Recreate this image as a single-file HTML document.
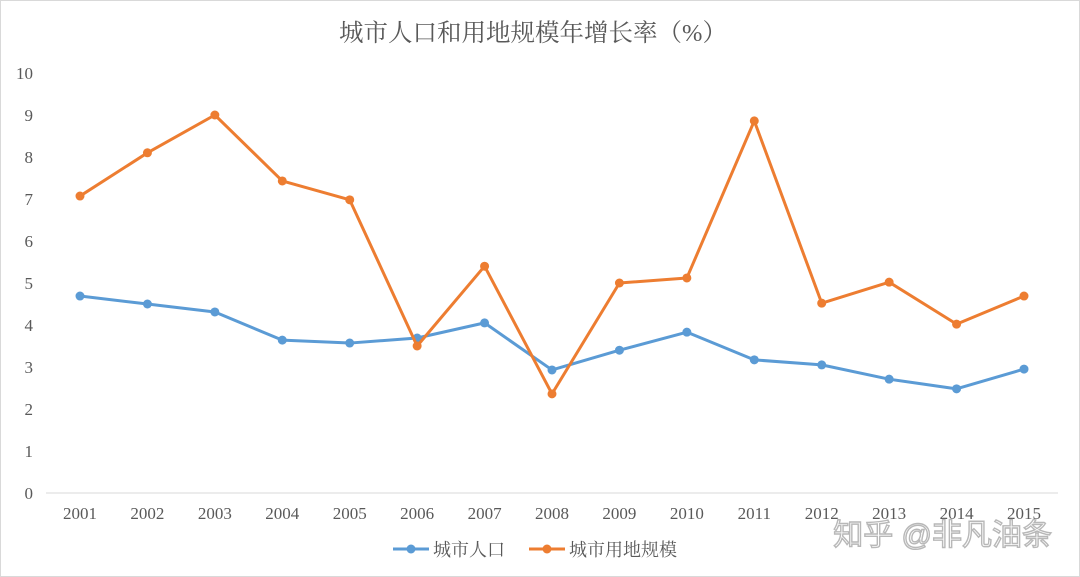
<!DOCTYPE html>
<html><head><meta charset="utf-8"><style>
html,body{margin:0;padding:0;background:#fff;}
svg{display:block;}
</style></head><body>
<svg id="chart" width="1080" height="577" xmlns="http://www.w3.org/2000/svg">
<rect x="0.5" y="0.5" width="1079" height="576" fill="#fff" stroke="#d9d9d9"/>
<text x="533" y="41" text-anchor="middle" font-family="'Liberation Serif','Noto Serif CJK SC',serif" font-size="24.5" fill="#595959">城市人口和用地规模年增长率（%）</text>
<g id="yaxis"></g><g id="xaxis"></g><g id="series"></g>
<g>
<line x1="393" y1="549" x2="429" y2="549" stroke="#5b9bd5" stroke-width="3"/>
<circle cx="411" cy="549" r="4.5" fill="#5b9bd5"/>
<text x="433" y="556" font-family="'Liberation Serif','Noto Serif CJK SC',serif" font-size="18" fill="#595959">城市人口</text>
<line x1="529" y1="549" x2="565" y2="549" stroke="#ed7d31" stroke-width="3"/>
<circle cx="547" cy="549" r="4.5" fill="#ed7d31"/>
<text x="569" y="556" font-family="'Liberation Serif','Noto Serif CJK SC',serif" font-size="18" fill="#595959">城市用地规模</text>
</g>
<text x="1052" y="545" text-anchor="end" font-family="'Liberation Sans','Noto Sans CJK SC',sans-serif" font-size="30" fill="#ffffff" stroke="#b8b8b8" stroke-width="1.4">知乎 @非凡油条</text>
</svg>
<script>
const years=["2001","2002","2003","2004","2005","2006","2007","2008","2009","2010","2011","2012","2013","2014","2015"];
const population=[4.69,4.5,4.31,3.64,3.57,3.69,4.05,2.93,3.4,3.83,3.17,3.05,2.71,2.48,2.95];
const landScale=[7.07,8.1,9.0,7.43,6.98,3.5,5.4,2.36,5.0,5.12,8.86,4.52,5.02,4.02,4.69];
const yTicks=[0,1,2,3,4,5,6,7,8,9,10];
const NS="http://www.w3.org/2000/svg";
const x0=80,x1=1024,yb=493,yt=73;
function xs(i){return x0+(x1-x0)*i/(years.length-1);}
function ys(v){return yb-(yb-yt)*v/10;}
function mk(t,a,p){const e=document.createElementNS(NS,t);for(const k in a)e.setAttribute(k,a[k]);p.appendChild(e);return e;}
const ya=document.getElementById('yaxis'),xa=document.getElementById('xaxis'),sg=document.getElementById('series');
yTicks.forEach(v=>{const t=mk('text',{x:33,y:ys(v)+6,'text-anchor':'end','font-family':"'Liberation Serif',serif",'font-size':17,fill:'#595959'},ya);t.textContent=v;

});
const ax=mk('line',{x1:46,y1:yb,x2:1058,y2:yb,stroke:'#d9d9d9','stroke-width':1},xa);


years.forEach((y,i)=>{const t=mk('text',{x:xs(i),y:519,'text-anchor':'middle','font-family':"'Liberation Serif',serif",'font-size':17,fill:'#595959'},xa);t.textContent=y;

});
function series(vals,color,name){
const pl=mk('polyline',{points:vals.map((v,i)=>xs(i)+','+ys(v)).join(' '),fill:'none',stroke:color,'stroke-width':3,'stroke-linejoin':'round'},sg);


vals.forEach((v,i)=>{const c=mk('circle',{cx:xs(i),cy:ys(v),r:4.5,fill:color},sg);

});}
series(population,'#5b9bd5','population');
series(landScale,'#ed7d31','land-scale');
</script>
</body></html>
